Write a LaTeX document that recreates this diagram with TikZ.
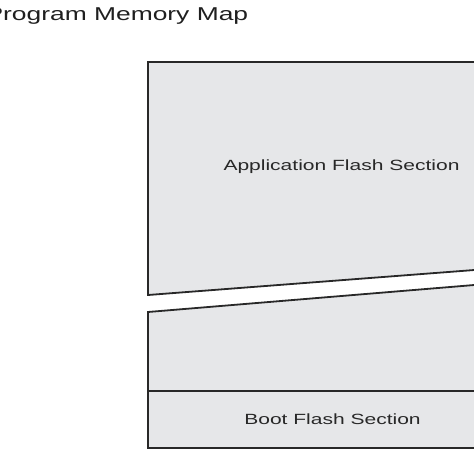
\documentclass[tikz,border=0pt]{standalone}
\usepackage{fontspec}
\setmainfont{Liberation Sans}
\usepackage{tikz}
\usetikzlibrary{positioning}
\definecolor{flashgray}{RGB}{230,231,233}
\definecolor{edgegray}{RGB}{40,40,40}
\definecolor{textgray}{RGB}{40,40,40}

\begin{document}
\begin{tikzpicture}[x=1pt, y=-1pt,
    section/.style={fill=flashgray, draw=edgegray, line width=1.8pt, line join=miter},
    every node/.style={inner sep=0pt, xscale=1.42},
    sectiontext/.style={font=\fontsize{14.8}{17}\selectfont, text=textgray, anchor=base}]
  \useasboundingbox (0,0) rectangle (474,474);
  \clip (0,0) rectangle (474,474);
                \node[font=\fontsize{18.6}{22}\selectfont, text=black!88, anchor=base east] (title) at (248.5,20.7) {Program Memory Map};
                % upper part, broken off by the slanted edge
                \draw[section] (490,268.8) -- (148,295) -- (148,62) -- (490,62);
                % lower part with boot section
                \draw[section] (490,283.7) -- (148,312) -- (148,448) -- (490,448);
                \draw[section, fill=none] (148,391) -- (490,391);
                \node[sectiontext] (app) at (341.5,170) {Application Flash Section};
                \node[sectiontext] (boot) at (332.5,424) {Boot Flash Section};
\end{tikzpicture}
\end{document}
